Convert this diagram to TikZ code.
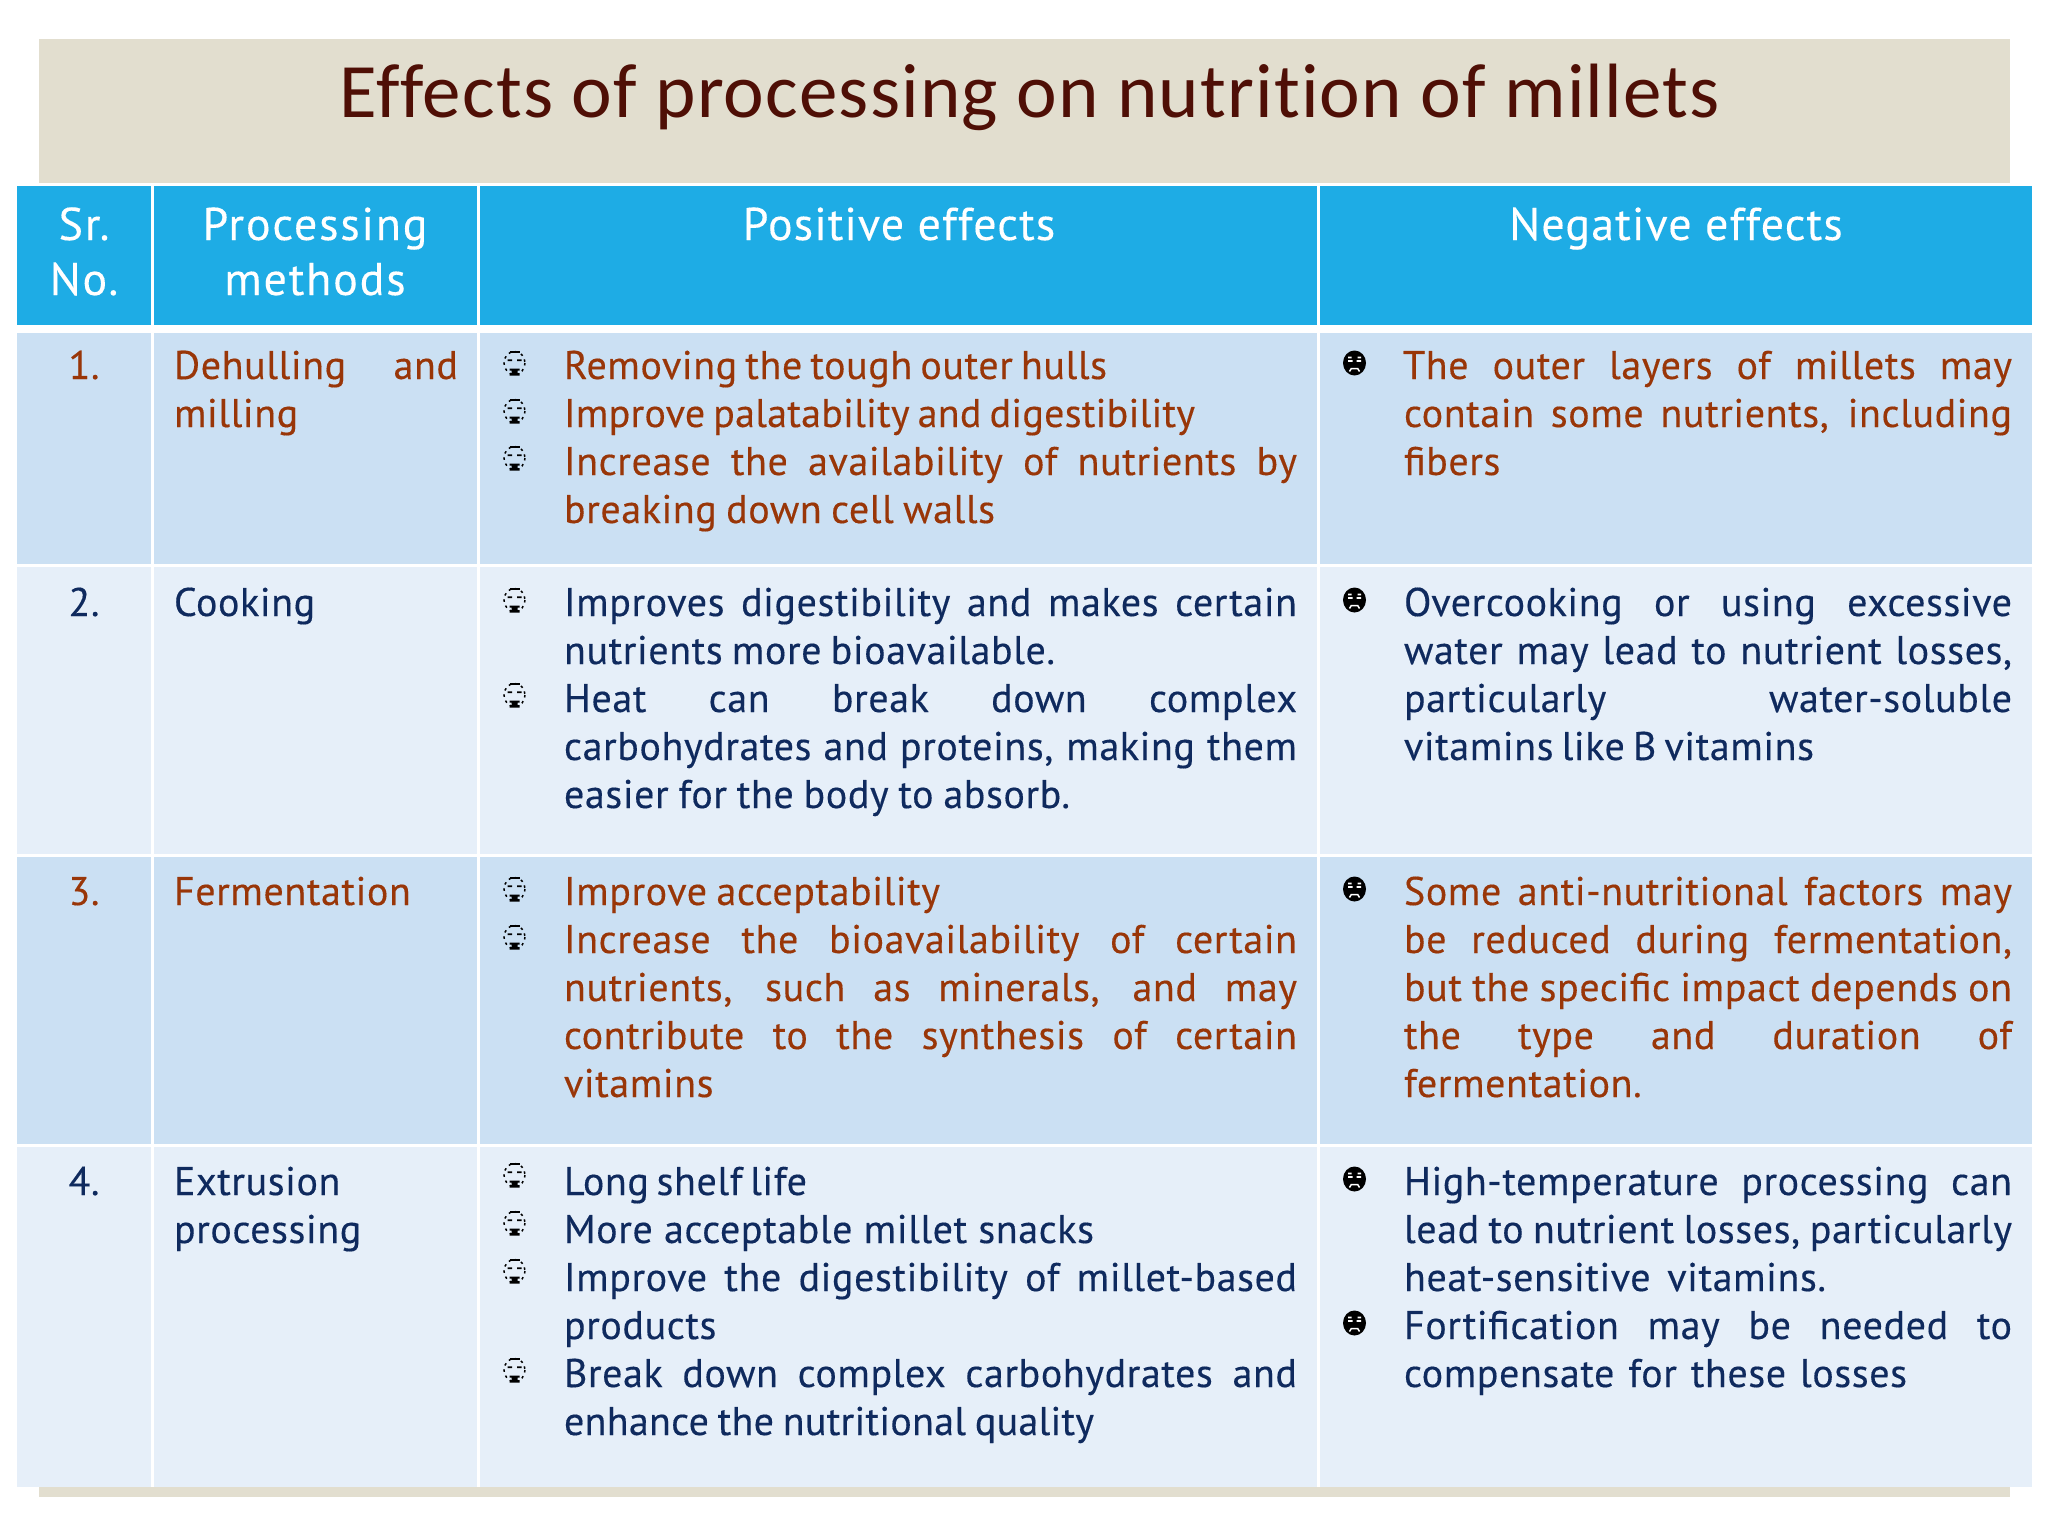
\documentclass[tikz,border=0pt]{standalone}
\usepackage{fontspec}
\setmainfont{PT Sans}[FakeBold=0.3,LetterSpace=1.5]
\newfontfamily\headfont{PT Sans}[FakeBold=0.2,LetterSpace=4]
\newfontfamily\headwide{PT Sans}[FakeBold=0.2,LetterSpace=2.5]
\newfontfamily\bodytight{PT Sans}[FakeBold=0.3,LetterSpace=0.7]
\newfontfamily\titlefont{Carlito}[Ligatures={NoCommon,NoRequired},LetterSpace=1.5]
\definecolor{hdr}{HTML}{1EACE5}
\definecolor{rowdark}{HTML}{CBE0F3}
\definecolor{rowlight}{HTML}{E6EFF9}
\definecolor{titlebg}{HTML}{E2DECF}
\definecolor{titlefg}{HTML}{4F0F06}
\definecolor{rust}{HTML}{993608}
\definecolor{navy}{HTML}{0F2A5E}
\newcount\linecnt
\newlength{\linew}
% justified / measured line: x1 x2 baseline text
\newcommand{\tl}[4]{\global\advance\linecnt by 1
  \setlength{\linew}{\dimexpr #2pt-#1pt\relax}
  \node[txt] (line\the\linecnt) at (#1,#3+1) {\spaceskip=.2em plus 1em minus .12em\makebox[\linew][s]{#4}};}
% natural width line: x baseline text
\newcommand{\tn}[3]{\global\advance\linecnt by 1
  \node[txt] (line\the\linecnt) at (#1,#2+1) {#3};}
% centred line
\newcommand{\tc}[3]{\global\advance\linecnt by 1
  \node[ctr] (line\the\linecnt) at (#1,#2+1) {#3};}
\newcommand{\cellbox}[5]{\fill[#5] (#1,#2) rectangle (#3,#4);}
\newcommand{\good}[1]{\begin{scope}[shift={(514.5,#1)}]
  \draw[black,line width=1.5pt,dash pattern=on 2.5pt off 4pt] (0,0) ellipse (10.5 and 11.5);
  \fill[black] (-5,-12) rectangle (5,-10.4);
  \fill[black] (-7,-3.6) rectangle (-2.5,-2) (2.5,-3.6) rectangle (7,-2);
  \fill[black] (-5,5.5) rectangle (5,7.5) (-3,7.5) rectangle (3,10) (-5,10) rectangle (5,12.5);
\end{scope}}
\newcommand{\bad}[1]{\begin{scope}[shift={(1354.5,#1)}]
  \fill[black] (0,0) ellipse (11.5 and 12.5);
  \fill[white] (-6.5,-6.5) rectangle (-3,-4.6) (3,-6.5) rectangle (6.5,-4.6);
  \fill[white] (-6.5,-2.8) rectangle (-2,-1.2) (2,-2.8) rectangle (6.5,-1.2);
  \draw[white,line width=1.5pt] (-5,8.5) -- (-3.2,5.5) -- (3.2,5.5) -- (5,8.5);
\end{scope}}
\tikzset{
  txt/.style={anchor=base west,inner sep=0pt,outer sep=0pt},
  ctr/.style={anchor=base,inner sep=0pt,outer sep=0pt},
}
\begin{document}
\begin{tikzpicture}[x=1pt,y=-1pt]
\useasboundingbox (0,0) rectangle (2048,1536);
\fill[white] (0,0) rectangle (2048,1536);
\cellbox{39}{39}{2010}{183}{titlebg}
\cellbox{39}{1487}{2010}{1497}{titlebg}
\node[ctr,text=titlefg,font=\titlefont\fontsize{77}{90}\selectfont] (title) at (1030,118) {Effects of processing on nutrition of millets};
% header
\cellbox{17}{186}{151}{325}{hdr}
\cellbox{154}{186}{477}{325}{hdr}
\cellbox{480}{186}{1317}{325}{hdr}
\cellbox{1320}{186}{2032}{325}{hdr}
% rows
\foreach \a/\b/\c in {333/564/rowdark,567/854/rowlight,857/1144/rowdark,1147/1487/rowlight}{
  \cellbox{17}{\a}{151}{\b}{\c}
  \cellbox{154}{\a}{477}{\b}{\c}
  \cellbox{480}{\a}{1317}{\b}{\c}
  \cellbox{1320}{\a}{2032}{\b}{\c}
}
\begin{scope}[text=white,font=\headfont\fontsize{46}{55}\selectfont]
\tc{84}{239}{Sr.}
\tc{84}{294}{No.}
\tc{315}{239}{Processing}
\tc{315}{294}{methods}
\end{scope}
\begin{scope}[text=white,font=\headwide\fontsize{46}{55}\selectfont]
\tc{899}{239}{Positive effects}
\tc{1676}{239}{Negative effects}
\end{scope}
% row 1
\begin{scope}[text=rust,font=\fontsize{40}{48}\selectfont]
\tc{84}{378}{1.}
\tl{174}{458}{378}{Dehulling and}
\tn{174}{426}{milling}
\tl{564}{1107}{378}{Removing the tough outer hulls}
\tl{564}{1195}{426}{\bodytight Improve palatability and digestibility}
\tl{564}{1297}{474}{Increase the availability of nutrients by}
\tl{564}{995}{522}{breaking down cell walls}
\tl{1403}{2012}{378}{The outer layers of millets may}
\tl{1404}{2012}{426}{contain some nutrients, including}
\tn{1404}{474}{fibers}
\end{scope}
% row 2
\begin{scope}[text=navy,font=\fontsize{40}{48}\selectfont]
\tc{84}{615}{2.}
\tn{174}{615}{Cooking}
\tl{564}{1297}{615}{Improves digestibility and makes certain}
\tl{564}{1055}{663}{nutrients more bioavailable.}
\tl{564}{1297}{711}{Heat can break down complex}
\tl{564}{1297}{759}{carbohydrates and proteins, making them}
\tl{564}{1070}{807}{easier for the body to absorb.}
\tl{1404}{2012}{615}{Overcooking or using excessive}
\tl{1404}{2012}{663}{water may lead to nutrient losses,}
\tl{1404}{2012}{711}{particularly water-soluble}
\tl{1404}{1814}{759}{vitamins like B vitamins}
\end{scope}
% row 3
\begin{scope}[text=rust,font=\fontsize{40}{48}\selectfont]
\tc{84}{904}{3.}
\tn{174}{904}{Fermentation}
\tl{564}{940}{904}{Improve acceptability}
\tl{564}{1297}{952}{Increase the bioavailability of certain}
\tl{564}{1297}{1000}{nutrients, such as minerals, and may}
\tl{564}{1297}{1048}{contribute to the synthesis of certain}
\tn{564}{1096}{vitamins}
\tl{1404}{2012}{904}{Some anti-nutritional factors may}
\tl{1404}{2012}{952}{be reduced during fermentation,}
\tl{1404}{2012}{1000}{but the specific impact depends on}
\tl{1404}{2012}{1048}{the type and duration of}
\tn{1404}{1096}{fermentation.}
\end{scope}
% row 4
\begin{scope}[text=navy,font=\fontsize{40}{48}\selectfont]
\tc{84}{1194}{4.}
\tn{174}{1194}{Extrusion}
\tn{174}{1242}{processing}
\tl{564}{807}{1194}{Long shelf life}
\tl{564}{1094}{1242}{More acceptable millet snacks}
\tl{564}{1297}{1290}{Improve the digestibility of millet-based}
\tn{564}{1338}{products}
\tl{564}{1297}{1386}{Break down complex carbohydrates and}
\tl{564}{1094}{1434}{\bodytight enhance the nutritional quality}
\tl{1404}{2012}{1194}{High-temperature processing can}
\tl{1404}{2012}{1242}{lead to nutrient losses, particularly}
\tl{1404}{1826}{1290}{heat-sensitive vitamins.}
\tl{1404}{2012}{1338}{Fortification may be needed to}
\tl{1404}{1907}{1386}{compensate for these losses}
\end{scope}
% bullets
\foreach \y in {363,411,458,600,695,889,937,1175,1223,1271,1370}{\good{\y}}
\foreach \y in {363,600,889,1179,1323}{\bad{\y}}
\end{tikzpicture}
\end{document}
